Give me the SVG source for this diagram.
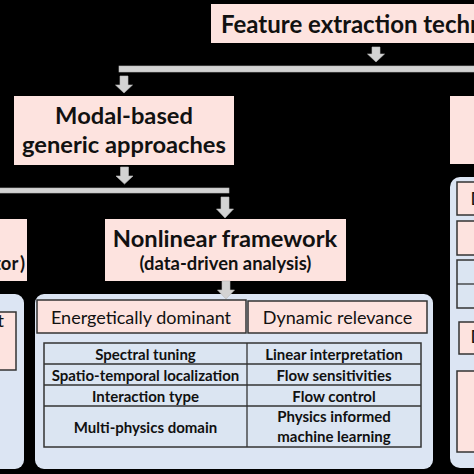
<svg xmlns="http://www.w3.org/2000/svg" width="474" height="474" viewBox="0 0 474 474">
<style>
.bg{fill:#000}
.pk{fill:#fde3df}
.pkb{fill:#fde3df;stroke:#333;stroke-width:1.5}
.panel{fill:#dce5f3}
.cell{fill:#dbe5f2;stroke:#333;stroke-width:1.5}
.ln{stroke:#333;stroke-width:1.3}
.arr{fill:#d3d3d3;stroke:#b8b8b8;stroke-width:0.6}
.t{font-family:Lato,"Open Sans","Liberation Sans",sans-serif;fill:#111}
.b{font-weight:bold}
.h1{font-size:23.7px}
.h2{font-size:18.4px}
.r{font-size:18px}
.c{font-size:15px;text-anchor:middle}
.m{text-anchor:middle}
</style>
<rect class="bg" x="0" y="0" width="474" height="474"/>

<g id="connectors">
<polygon class="arr" points="372,47 380,47 380,54 384.5,54 376,62 367.5,54 372,54"/>
<rect class="arr" x="119" y="66" width="360" height="6"/>
<polygon class="arr" points="120,76 128,76 128,85 132.5,85 124,93 115.5,85 120,85"/>
<polygon class="arr" points="120.5,167 128.5,167 128.5,176 133,176 124.5,184 116,176 120.5,176"/>
<rect class="arr" x="-5" y="188" width="234" height="5"/>
<polygon class="arr" points="221,197 229,197 229,209 233.5,209 225,218 216.5,209 221,209"/>
</g>

<g id="node-feature">
<rect class="pk" x="211" y="4" width="270" height="39"/>
<text class="t b" x="221" y="33" font-size="24px">Feature extraction techniques</text>
</g>

<g id="node-modal">
<rect class="pk" x="14" y="96" width="220" height="69"/>
<text class="t b h1 m" x="124" y="124">Modal-based</text>
<text class="t b h1 m" x="124" y="153">generic approaches</text>
</g>

<g id="node-right-top">
<rect class="pk" x="450" y="96" width="40" height="68"/>
</g>

<g id="node-linear">
<rect class="pk" x="-10" y="219" width="37" height="62"/>
<text class="t b h2" x="25" y="270" text-anchor="end">operator<tspan dx="2">)</tspan></text>
</g>

<g id="node-nonlinear">
<rect class="pk" x="105" y="219" width="241" height="62"/>
<text class="t b h1 m" x="225" y="247">Nonlinear framework</text>
<text class="t b h2 m" x="225.5" y="270">(data-driven analysis)</text>
</g>

<g id="panel-left">
<rect class="panel" x="-20" y="294" width="44" height="175" rx="9"/>
<rect class="pkb" x="-5" y="312" width="21" height="58"/>
<text class="t r" x="4" y="327" text-anchor="end">t</text>
</g>

<g id="panel-right">
<rect class="panel" x="450" y="177" width="40" height="291" rx="10"/>
<rect class="pkb" x="457" y="182" width="30" height="33"/>
<text class="t r" x="470.5" y="205">D</text>
<rect class="pkb" x="457" y="221" width="30" height="34"/>
<rect class="cell" x="457" y="260" width="30" height="48"/>
<line class="ln" x1="457" y1="284" x2="474" y2="284"/>
<rect class="pkb" x="459" y="322" width="30" height="32"/>
<text class="t r" x="470.5" y="343">D</text>
<rect class="pkb" x="457" y="371" width="30" height="81"/>
</g>

<g id="panel-nonlinear">
<rect class="panel" x="35" y="294" width="398" height="175" rx="9"/>
<g id="node-energetic">
<rect class="pkb" x="37" y="300" width="209" height="33"/>
<text class="t r m" x="141" y="324">Energetically dominant</text>
</g>
<g id="node-dynamic">
<rect class="pkb" x="248" y="301" width="179" height="32"/>
<text class="t r m" x="337.5" y="324">Dynamic relevance</text>
</g>
<g id="table">
<rect class="cell" x="44" y="343" width="377" height="104"/>
<line class="ln" x1="247" y1="343" x2="247" y2="447"/>
<line class="ln" x1="44" y1="364" x2="421" y2="364"/>
<line class="ln" x1="44" y1="385" x2="421" y2="385"/>
<line class="ln" x1="44" y1="406" x2="421" y2="406"/>
<text class="t b c" x="145.5" y="360">Spectral tuning</text>
<text class="t b c" x="145.5" y="381">Spatio-temporal localization</text>
<text class="t b c" x="145.5" y="402">Interaction type</text>
<text class="t b c" x="145.5" y="433">Multi-physics domain</text>
<text class="t b c" x="334" y="360">Linear interpretation</text>
<text class="t b c" x="334" y="381">Flow sensitivities</text>
<text class="t b c" x="334" y="402">Flow control</text>
<text class="t b c" x="334" y="422">Physics informed</text>
<text class="t b c" x="334" y="442">machine learning</text>
</g>
</g>

<g id="connector-arrow-bottom">
<polygon class="arr" points="222,281 230,281 230,290 234.5,290 226,299 217.5,290 222,290"/>
</g>
</svg>
